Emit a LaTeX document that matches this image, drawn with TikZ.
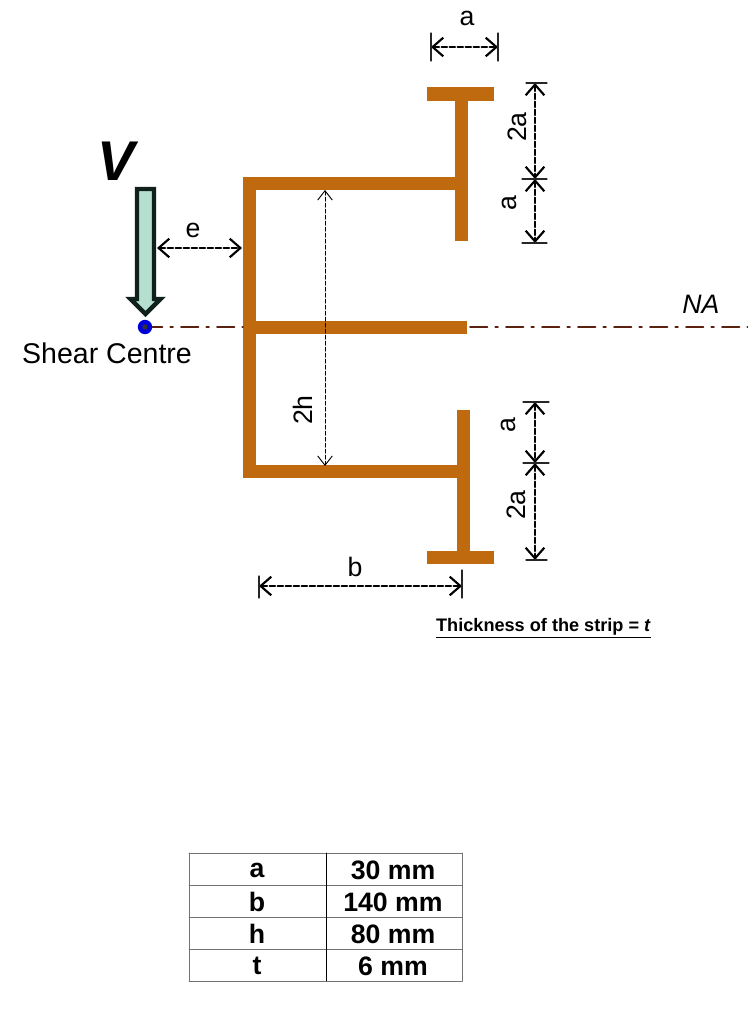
\documentclass[tikz,border=0pt]{standalone}
\usepackage{fontspec}
\setmainfont{Liberation Sans}
\usepackage{tkz-euclide}
\usetikzlibrary{arrows.meta}
\definecolor{strip}{RGB}{191,106,14}
\definecolor{loadfill}{RGB}{181,224,208}
\definecolor{loadline}{RGB}{16,32,28}
\definecolor{axisline}{RGB}{90,32,16}
\tikzset{
  flange/.style={line width=9.75pt,color=strip,line cap=butt},
  dimline/.style={line width=1.5pt,dash pattern=on 4pt off 2pt,{Straight Barb[length=8pt,width=14pt,line width=1.6pt]}-{Straight Barb[length=8pt,width=14pt,line width=1.6pt]}},
  thindim/.style={line width=0.7pt,dash pattern=on 3pt off 1.5pt,{Straight Barb[length=7pt,width=11pt]}-{Straight Barb[length=7pt,width=11pt]}},
  tick/.style={line width=0.8pt,color=black!85},
  axis/.style={line width=1.4pt,color=axisline,dash pattern=on 13pt off 6pt on 2pt off 6pt},
  lab/.style={font=\fontsize{20}{24}\selectfont,inner sep=0pt},
  cell/.style={font=\fontsize{20}{24}\selectfont\bfseries,inner sep=0pt},
  grid/.style={line width=0.75pt,color=black!55}
}
\begin{document}
\begin{tikzpicture}[x=0.75pt,y=-0.75pt]
\useasboundingbox (0,0) rectangle (747,1024);
% web and flanges
\tkzDefPoint(249,177){W1}
\tkzDefPoint(249,477){W2}
\tkzDefPoint(243,183){T1}
\tkzDefPoint(461,183){T2}
\tkzDefPoint(249,327){M1}
\tkzDefPoint(467,327){M2}
\tkzDefPoint(243,471){B1}
\tkzDefPoint(463,471){B2}
\tkzDefPoint(461,87){U1}
\tkzDefPoint(461,241){U2}
\tkzDefPoint(427,94){C1}
\tkzDefPoint(494,94){C2}
\tkzDefPoint(463,410){L1}
\tkzDefPoint(463,563){L2}
\tkzDefPoint(427,557){D1}
\tkzDefPoint(494,557){D2}
\tkzDrawSegment[flange](W1,W2)
\tkzDrawSegment[flange](T1,T2)
\tkzDrawSegment[flange](M1,M2)
\tkzDrawSegment[flange](B1,B2)
\tkzDrawSegment[flange](U1,U2)
\tkzDrawSegment[flange](C1,C2)
\tkzDrawSegment[flange](L1,L2)
\tkzDrawSegment[flange](D1,D2)
% neutral axis
\tkzDefPoint(145,327){S}
\tkzDefPoint(243,327){X1}
\tkzDefPoint(470,327){X2}
\tkzDefPoint(756,327){X3}
\tkzDrawSegment[axis](S,X1)
\tkzDrawSegment[axis](X2,X3)
% load
\tkzDefPoint(137,189){V1}
\tkzDefPoint(154,189){V2}
\tkzDefPoint(154,299){V3}
\tkzDefPoint(160.5,299){V4}
\tkzDefPoint(145.5,314){V5}
\tkzDefPoint(130.5,299){V6}
\tkzDefPoint(137,299){V7}
\tkzDrawPolygon[line width=3.2pt,color=loadline,fill=loadfill,line join=miter,miter limit=10](V1,V2,V3,V4,V5,V6,V7)
\fill[blue!85!black] (S) circle (5.4pt);
\fill[black!80] (S) circle (2pt);
% dimensions
\tkzDefPoint(431,47){Aa}
\tkzDefPoint(498,47){Ab}
\tkzDefPoint(431,33){Ac}
\tkzDefPoint(431,61){Ad}
\tkzDefPoint(498,33){Ae}
\tkzDefPoint(498,61){Af}
\tkzDrawSegment[dimline](Aa,Ab)
\tkzDrawSegment[tick](Ac,Ad)
\tkzDrawSegment[tick](Ae,Af)
\tkzDefPoint(535,83){Ra}
\tkzDefPoint(535,179){Rb}
\tkzDefPoint(535,243){Rc}
\tkzDefPoint(526,83){Rd}
\tkzDefPoint(547,83){Re}
\tkzDefPoint(522,179){Rf}
\tkzDefPoint(547,179){Rg}
\tkzDefPoint(522,243){Rh}
\tkzDefPoint(547,243){Ri}
\tkzDrawSegment[dimline](Ra,Rb)
\tkzDrawSegment[dimline](Rb,Rc)
\tkzDrawSegment[tick](Rd,Re)
\tkzDrawSegment[tick](Rf,Rg)
\tkzDrawSegment[tick](Rh,Ri)
\tkzDefPoint(535,402){Qa}
\tkzDefPoint(535,463){Qb}
\tkzDefPoint(535,560){Qc}
\tkzDefPoint(523,402){Qd}
\tkzDefPoint(549,402){Qe}
\tkzDefPoint(523,463){Qf}
\tkzDefPoint(549,463){Qg}
\tkzDefPoint(526,560){Qh}
\tkzDefPoint(547,560){Qi}
\tkzDrawSegment[dimline](Qa,Qb)
\tkzDrawSegment[dimline](Qb,Qc)
\tkzDrawSegment[tick](Qd,Qe)
\tkzDrawSegment[tick](Qf,Qg)
\tkzDrawSegment[tick](Qh,Qi)
\tkzDefPoint(259,586){Ba}
\tkzDefPoint(462,586){Bb}
\tkzDefPoint(259,576){Bc}
\tkzDefPoint(259,598){Bd}
\tkzDefPoint(462,570){Be}
\tkzDefPoint(462,598){Bf}
\tkzDrawSegment[dimline](Ba,Bb)
\tkzDrawSegment[tick](Bc,Bd)
\tkzDrawSegment[tick](Be,Bf)
\tkzDefPoint(157,248){Ea}
\tkzDefPoint(242,248){Eb}
\tkzDrawSegment[dimline](Ea,Eb)
\tkzDefPoint(325,190){Ha}
\tkzDefPoint(325,466){Hb}
\tkzDrawSegment[thindim](Ha,Hb)
% labels
\node[lab] (laba) at (467,18) {a};
\node[lab,rotate=90] (labra) at (517,127) {2a};
\node[lab,rotate=90] (labrb) at (509,203) {a};
\node[lab,rotate=90] (labqa) at (508,425) {a};
\node[lab,rotate=90] (labqb) at (516,505) {2a};
\node[lab] (labb) at (355,567) {b};
\node[lab] (labe) at (193,230) {e};
\node[lab,rotate=90] (labh) at (303,410) {2h};
\node[lab,font=\fontsize{20}{24}\selectfont\itshape] (labna) at (701,304) {NA};
\node[lab,font=\fontsize{42}{46}\selectfont\bfseries\itshape] (labv) at (116,161) {V};
\node[lab,font=\fontsize{21.4}{25}\selectfont] (labs) at (107,353) {Shear Centre};
\node[lab,font=\fontsize{13.6}{16}\selectfont\bfseries] (labt) at (543.5,628) {\underline{Thickness of the strip = \textit{t}}};
% table
\tkzDefPoint(189,853){G1}
\tkzDefPoint(462,853){G2}
\tkzDefPoint(189,885){G3}
\tkzDefPoint(462,885){G4}
\tkzDefPoint(189,917){G5}
\tkzDefPoint(462,917){G6}
\tkzDefPoint(189,949){G7}
\tkzDefPoint(462,949){G8}
\tkzDefPoint(189,981){G9}
\tkzDefPoint(462,981){G10}
\tkzDefPoint(326,853){G11}
\tkzDefPoint(326,981){G12}
\tkzDrawSegment[grid](G1,G2)
\tkzDrawSegment[grid](G3,G4)
\tkzDrawSegment[grid](G5,G6)
\tkzDrawSegment[grid](G7,G8)
\tkzDrawSegment[grid](G9,G10)
\tkzDrawSegment[grid](G1,G9)
\tkzDrawSegment[grid](G2,G10)
\tkzDrawSegment[line width=0.7pt,color=black](G11,G12)
\node[cell] (ca) at (257,870) {a};
\node[cell] (cb) at (257,902) {b};
\node[cell] (ch) at (257,934) {h};
\node[cell] (ct) at (257,966) {t};
\node[cell] (va) at (393,870) {30 mm};
\node[cell] (vb) at (393,902) {140 mm};
\node[cell] (vh) at (393,934) {80 mm};
\node[cell] (vt) at (393,966) {6 mm};
\end{tikzpicture}
\end{document}
